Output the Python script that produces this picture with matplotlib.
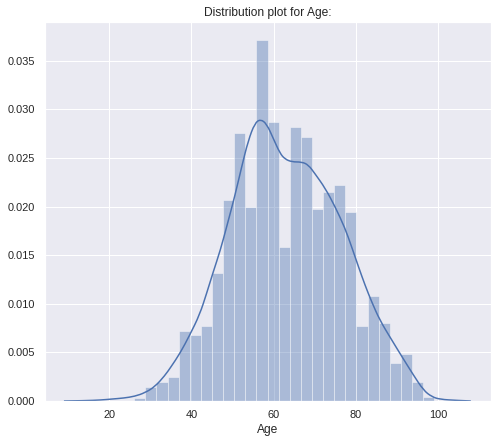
import numpy as np
import matplotlib
matplotlib.use("Agg")
import matplotlib.pyplot as plt
from matplotlib.path import Path
from matplotlib.patches import PathPatch
import seaborn as sns

# Histogram (density)
bin_start = 26.1
bin_width = 2.70
hist_density = [0.00034, 0.00144, 0.00199, 0.00250, 0.00724, 0.00679, 0.00772,
                0.01321, 0.02069, 0.02762, 0.02000, 0.03716, 0.02875, 0.01588,
                0.02824, 0.02721, 0.01973, 0.02155, 0.02224, 0.01949, 0.00775,
                0.01084, 0.00800, 0.00394, 0.00487, 0.00199, 0.00041]

# KDE curve
kde_age = [9.0, 14.0, 18.0, 20.6, 23.5, 26.2, 28.7, 31.1, 33.5, 35.0, 37.2, 39.6,
           42.0, 43.7, 45.3, 47.0, 48.6, 50.6, 52.2, 53.8, 55.4, 56.8, 58.3, 59.9,
           61.5, 62.7, 64.4, 66.8, 68.4, 70.0, 72.5, 74.9, 77.3, 78.9, 80.6, 82.2,
           83.8, 85.8, 88.5, 91.1, 93.9, 96.4, 98.4, 100.4, 104.5, 107.9]
kde_density = [0.0, 0.00003, 0.0001, 0.0002, 0.0003, 0.00048, 0.00085, 0.00147,
               0.0026, 0.0035, 0.0049, 0.0068, 0.0089, 0.0111, 0.0133, 0.0155,
               0.0180, 0.0212, 0.0241, 0.0268, 0.0286, 0.0290, 0.0285, 0.0270,
               0.0255, 0.0249, 0.0246, 0.0246, 0.0243, 0.0234, 0.0219, 0.0200,
               0.0178, 0.0159, 0.0138, 0.0119, 0.0102, 0.0083, 0.0064, 0.0046,
               0.0027, 0.0011, 0.00044, 0.00017, 0.00006, 0.0]

sns.set_theme(style="darkgrid")
plt.rcParams['font.family'] = ['Liberation Sans', 'DejaVu Sans']

W, H = 497, 442
fig = plt.figure(figsize=(W / 72, H / 72), dpi=72)
ax = fig.add_axes([45 / W, 41 / H, 446 / W, 379 / H])

color = "#4c72b0"
lefts = bin_start + bin_width * np.arange(len(hist_density))
ax.bar(lefts, hist_density, width=bin_width, align='edge', color=color,
       alpha=0.4, edgecolor='white', linewidth=1.0)

# Smooth KDE line: read points used as quadratic Bezier control points
pts = np.column_stack([kde_age, kde_density])
verts = [pts[0]]
codes = [Path.MOVETO]
for i in range(1, len(pts) - 1):
    mid = (pts[i] + pts[i + 1]) / 2
    if i == len(pts) - 2:
        mid = pts[i + 1]
    verts += [pts[i], mid]
    codes += [Path.CURVE3, Path.CURVE3]
kde_path = Path(verts, codes)
ax.add_patch(PathPatch(kde_path, facecolor='none', edgecolor=color,
                       linewidth=1.5))

ax.set_xlim(4.4, 112.8)
ax.set_ylim(0, 0.0390)
ax.set_xticks([20, 40, 60, 80, 100])
ax.set_yticks([0.0, 0.005, 0.010, 0.015, 0.020, 0.025, 0.030, 0.035])
ax.yaxis.set_major_formatter(matplotlib.ticker.FormatStrFormatter('%.3f'))
ax.tick_params(labelsize=11)
ax.set_xlabel("Age", fontsize=12)
ax.set_title("Distribution plot for Age:", fontsize=12)

fig.savefig("out.png", dpi=72)
